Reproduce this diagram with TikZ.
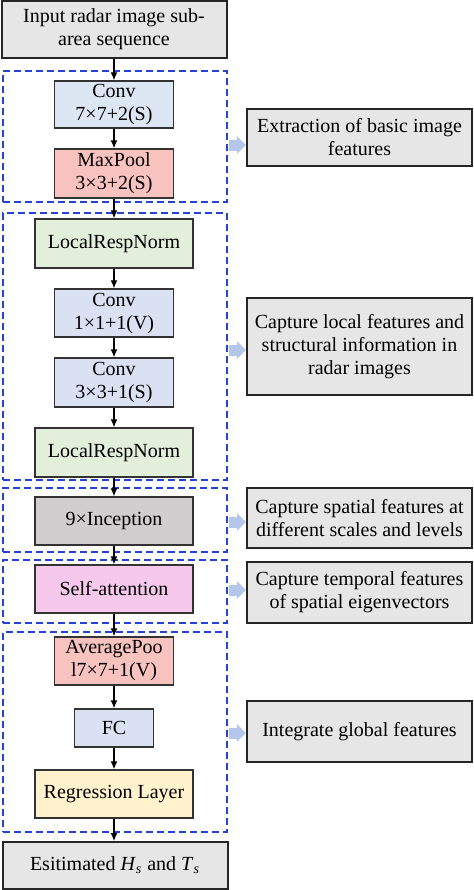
\documentclass[tikz,border=0pt]{standalone}
\usepackage{fontspec}
\setmainfont{Liberation Serif}
\usetikzlibrary{arrows.meta}
\definecolor{boxgray}{HTML}{E7E6E6}
\definecolor{convblue}{HTML}{DDE7F4}
\definecolor{convblue2}{HTML}{D9E1F2}
\definecolor{poolred}{HTML}{F8C3BF}
\definecolor{lrngreen}{HTML}{E2EFDA}
\definecolor{incgray}{HTML}{D0CECE}
\definecolor{sapink}{HTML}{F5C8EC}
\definecolor{regyellow}{HTML}{FFF2CC}
\definecolor{dashblue}{HTML}{2443D6}
\definecolor{lightarrow}{HTML}{B4C6EA}
\begin{document}
\begin{tikzpicture}[x=0.5pt,y=-0.5pt,
  every node/.style={font=\fontsize{10}{11.5}\selectfont, align=center, inner sep=0pt},
  gbox/.style={draw=black!85, line width=1pt, fill=boxgray, minimum width=112.5pt},
  lbox/.style={draw=black!80, line width=0.7pt},
  narrowbox/.style={lbox, minimum width=59.5pt},
  widebox/.style={lbox, minimum width=79pt},
  dbox/.style={draw=dashblue, line width=0.8pt, dash pattern=on 3.5pt off 2pt, minimum width=112pt},
  conn/.style={-{Latex[length=4pt,width=3.5pt]}, line width=0.6pt},
  larr/.style={line width=5.5pt, draw=lightarrow, -{Triangle[length=4.5pt,width=8.5pt]}}
]
\useasboundingbox (0,0) rectangle (474,890);

% dashed groups
\node[dbox, minimum height=65.5pt] (d1) at (115,136.5) {};
\node[dbox, minimum height=133.5pt] (d2) at (115,346.5) {};
\node[dbox, minimum height=32pt] (d3) at (115,520) {};
\node[dbox, minimum height=31.5pt] (d4) at (115,591.5) {};
\node[dbox, minimum height=100pt] (d5) at (115,732) {};

% main column
\node[gbox, minimum height=28.5pt] (inp) at (114,29.5) {Input radar image sub-\\area sequence};
\node[narrowbox, fill=convblue, minimum height=23.5pt] (conv1) at (114,104.5) {Conv\\7×7+2(S)};
\node[narrowbox, fill=poolred, minimum height=24.5pt] (mp) at (114,173.5) {MaxPool\\3×3+2(S)};
\node[widebox, fill=lrngreen, minimum height=24.5pt] (lrn1) at (114,243.5) {LocalRespNorm};
\node[narrowbox, fill=convblue2, minimum height=24pt] (conv2) at (114,313) {Conv\\1×1+1(V)};
\node[narrowbox, fill=convblue2, minimum height=24.5pt] (conv3) at (114,382.5) {Conv\\3×3+1(S)};
\node[widebox, fill=lrngreen, minimum height=24.5pt] (lrn2) at (114,452.5) {LocalRespNorm};
\node[widebox, fill=incgray, minimum height=24pt] (inc) at (114,521) {9×Inception};
\node[widebox, fill=sapink, minimum height=24pt] (sa) at (114,589) {Self-attention};
\node[narrowbox, fill=poolred, minimum height=24pt] (ap) at (114,661) {AveragePoo\\l7×7+1(V)};
\node[lbox, fill=convblue2, minimum width=39.5pt, minimum height=19pt] (fc) at (114,728) {FC};
\node[widebox, fill=regyellow, minimum height=24pt] (reg) at (114,794) {Regression Layer};
\node[gbox, minimum height=23.5pt] (est) at (115,865.5) {Esitimated \textit{H}\textsubscript{\textit{s}} and \textit{T}\textsubscript{\textit{s}}};

% right descriptions
\node[gbox, minimum height=28.5pt] (r1) at (359.5,137.5) {Extraction of basic image\\features};
\node[gbox, minimum height=48.5pt] (r2) at (359.5,346.5) {Capture local features and\\structural information in\\radar images};
\node[gbox, minimum height=30pt] (r3) at (359.5,518) {Capture spatial features at\\different scales and levels};
\node[gbox, minimum height=30.5pt] (r4) at (359.5,592.5) {Capture temporal features\\of spatial eigenvectors};
\node[gbox, minimum height=30.5pt] (r5) at (359.5,731.5) {Integrate global features};

% main connectors
\draw[conn] (inp.south) -- (conv1.north);
\draw[conn] (conv1) -- (mp);
\draw[conn] (mp) -- (lrn1);
\draw[conn] (lrn1) -- (conv2);
\draw[conn] (conv2) -- (conv3);
\draw[conn] (conv3) -- (lrn2);
\draw[conn] (lrn2) -- (inc);
\draw[conn] (inc) -- (sa);
\draw[conn] (sa) -- (ap);
\draw[conn] (ap) -- (fc);
\draw[conn] (fc) -- (reg);
\draw[conn] (reg.south) -- (reg.south |- est.north);

% light arrows
\draw[larr] ([xshift=0.6pt]d1.east |- 0,145) -- (r1.west |- 0,145);
\draw[larr] ([xshift=0.6pt]d2.east |- 0,350) -- (r2.west |- 0,350);
\draw[larr] ([xshift=0.6pt]d3.east |- 0,522) -- (r3.west |- 0,522);
\draw[larr] ([xshift=0.6pt]d4.east |- 0,590) -- (r4.west |- 0,590);
\draw[larr] ([xshift=0.6pt]d5.east |- 0,733) -- (r5.west |- 0,733);
\end{tikzpicture}
\end{document}
